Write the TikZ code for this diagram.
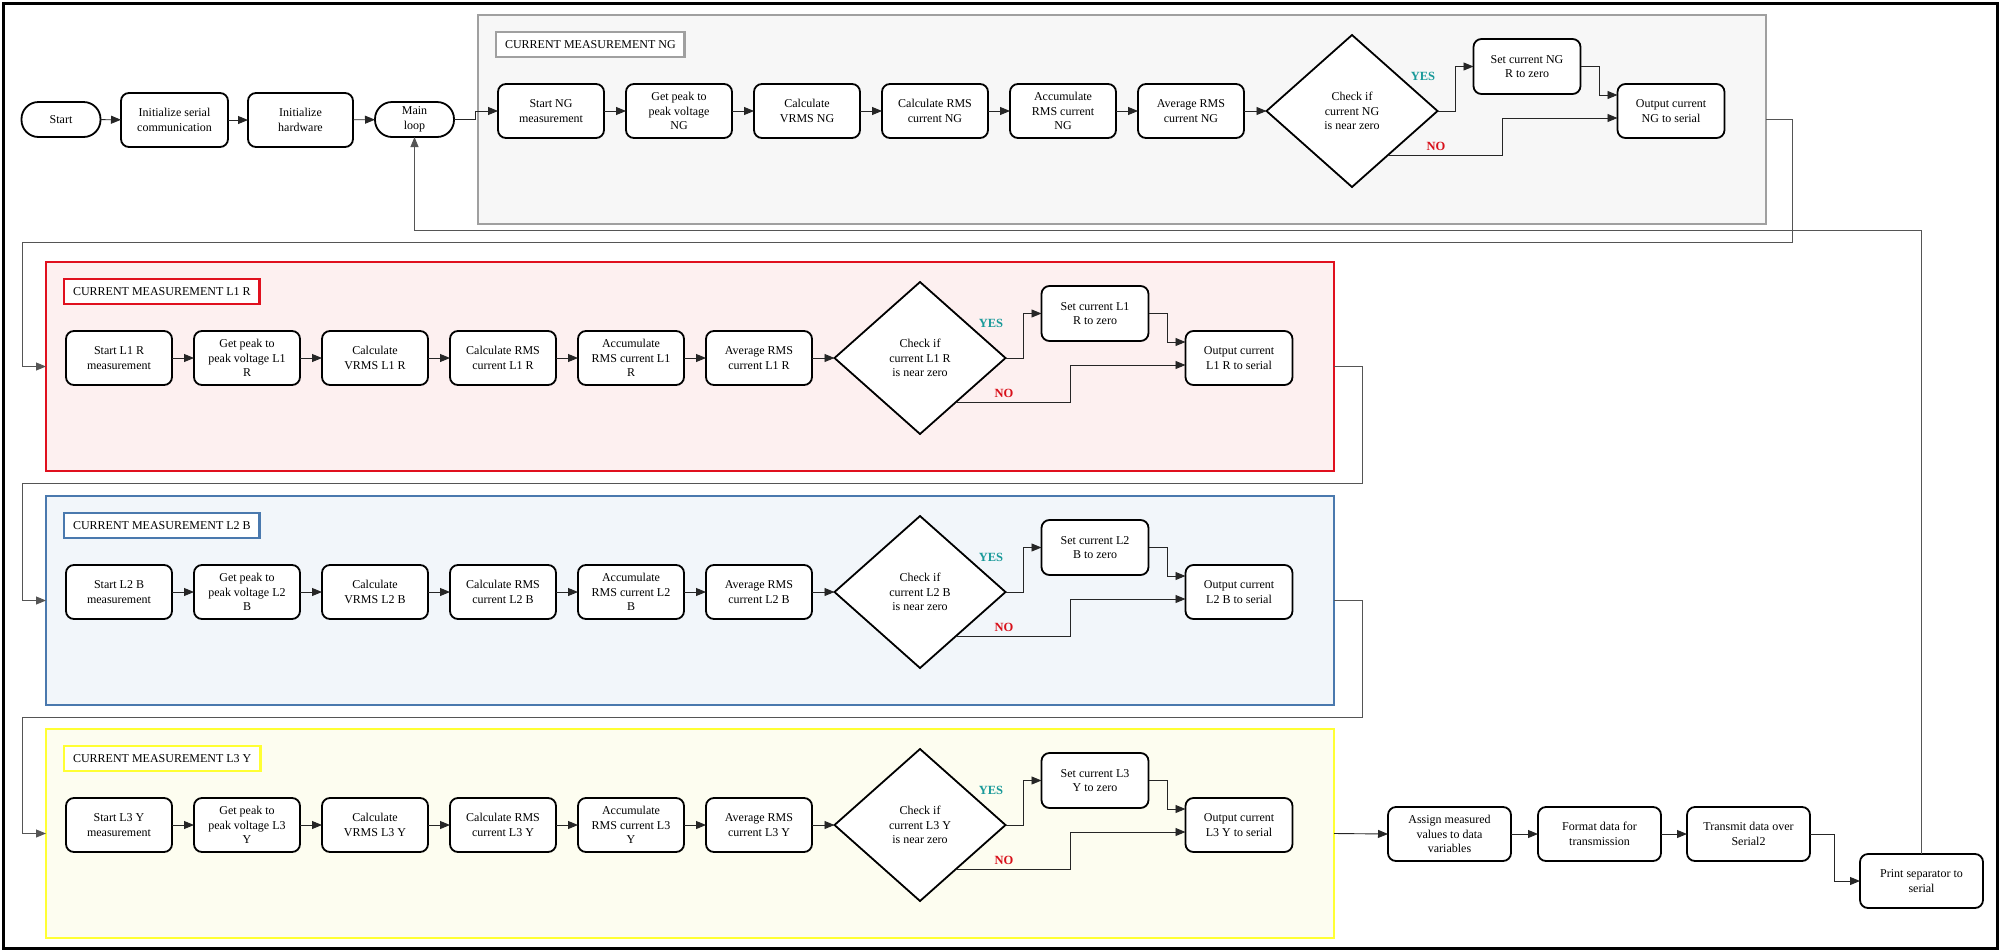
\documentclass[tikz,border=0pt]{standalone}
\usepackage{fontspec}
\setmainfont{Liberation Serif}
\usetikzlibrary{arrows.meta,calc,shapes.geometric}
\definecolor{ngbd}{HTML}{A0A0A0}
\definecolor{ngfl}{HTML}{F7F7F7}
\definecolor{rbd}{HTML}{E0101E}
\definecolor{rfl}{HTML}{FDF0F0}
\definecolor{bbd}{HTML}{4A79AE}
\definecolor{bfl}{HTML}{F2F6FA}
\definecolor{ybd}{HTML}{FFFF33}
\definecolor{yfl}{HTML}{FDFDF0}
\definecolor{yescol}{HTML}{1A9A9A}
\definecolor{nocol}{HTML}{D8101A}
\definecolor{lnk}{HTML}{555555}
\tikzset{
  every node/.style={font=\fontsize{12}{14.5}\selectfont},
  box/.style={draw=black, line width=1.8pt, rounded corners=8pt, fill=white, align=center,
    minimum width=106, minimum height=54, inner sep=2pt, outer sep=0pt},
  term/.style={box, rounded corners=17pt, minimum height=35, minimum width=79},
  dec/.style={draw=black, line width=1.8pt, diamond, fill=white, align=center,
    minimum width=171, minimum height=152, inner sep=0pt, outer sep=0pt},
  grpbox/.style={line width=1.6pt, minimum width=1288, minimum height=209, inner sep=0pt, outer sep=0pt},
  ttl/.style={line width=2.6pt, fill=white, minimum height=25, inner xsep=9pt, anchor=west, outer sep=0pt},
  arr/.style={-{Triangle[length=10pt,width=8pt]}, line width=0.9pt, draw=black!85},
  link/.style={arr, draw=lnk},
  yeslbl/.style={text=yescol, font=\fontsize{12.5}{14}\selectfont\bfseries},
  nolbl/.style={text=nocol, font=\fontsize{12.5}{14}\selectfont\bfseries},
}
% #1 prefix, #2 shift, #3 tag, #4 tag first part, #5 tag second part, #6 set text, #7 border, #8 fill
\newcommand\mgroup[8]{%
  \begin{scope}[shift={#2}]
    \node[grpbox, draw=#7, fill=#8] (#1g) at (644,104.5) {};
    \node[ttl, draw=#7] (#1t) at (18,29.5) {CURRENT MEASUREMENT #3};
    \node[box] (#1s1) at (73,96) {Start #3\\measurement};
    \node[box] (#1s2) at (201,96) {Get peak to\\peak voltage #4\\#5};
    \node[box] (#1s3) at (329,96) {Calculate\\VRMS #3};
    \node[box] (#1s4) at (457,96) {Calculate RMS\\current #3};
    \node[box] (#1s5) at (585,96) {Accumulate\\RMS current #4\\#5};
    \node[box] (#1s6) at (713,96) {Average RMS\\current #3};
    \node[dec] (#1d) at (874,96) {Check if\\current #3\\is near zero};
    \node[box, minimum width=107, minimum height=55] (#1set) at (1049,51.5) {#6};
    \node[box, minimum width=107] (#1out) at (1193,96) {Output current\\#3 to serial};
    \node[yeslbl] (#1y) at (945,61) {YES};
    \node[nolbl] (#1n) at (958,131) {NO};
    \draw[arr] (#1s1) -- (#1s2);
    \draw[arr] (#1s2) -- (#1s3);
    \draw[arr] (#1s3) -- (#1s4);
    \draw[arr] (#1s4) -- (#1s5);
    \draw[arr] (#1s5) -- (#1s6);
    \draw[arr] (#1s6) -- (#1d);
    \draw[arr] (#1d.east) -- ++(18,0) |- (#1set.west);
    \draw[arr] (#1set.east) -- ++(19,0) |- ([yshift=16pt]#1out.west);
    \draw[arr] ($(#1d.south)!0.42!(#1d.east)$) -| ([xshift=-115pt,yshift=-7pt]#1out.west) -- ([yshift=-7pt]#1out.west);
  \end{scope}}
\begin{document}
\begin{tikzpicture}[x=1pt,y=-1pt]
  \useasboundingbox (0,0) rectangle (2000,951);
  \draw[line width=3pt, black] (3,3) rectangle (1997,948);
  % start chain
  \node[term] (start) at (61,119.5) {Start};
  \node[box, minimum width=107] (iser) at (174.5,120) {Initialize serial\\communication};
  \node[box, minimum width=105] (ihw) at (300.5,120) {Initialize\\hardware};
  \node[term] (main) at (414.5,119.5) {Main\\loop};
  \draw[arr] (start) -- (iser);
  \draw[arr] (iser) -- (ihw);
  \draw[arr] (ihw) -- (main);
  % groups
  \mgroup{NG}{(478,15)}{NG}{}{NG}{Set current NG\\R to zero}{ngbd}{ngfl}
  \mgroup{LA}{(46,262)}{L1 R}{L1}{R}{Set current L1\\R to zero}{rbd}{rfl}
  \mgroup{LB}{(46,496)}{L2 B}{L2}{B}{Set current L2\\B to zero}{bbd}{bfl}
  \mgroup{LC}{(46,729)}{L3 Y}{L3}{Y}{Set current L3\\Y to zero}{ybd}{yfl}
  % final chain
  \node[box, minimum width=123] (asg) at (1449.5,834) {Assign measured\\values to data\\variables};
  \node[box, minimum width=123] (fmt) at (1599.5,834) {Format data for\\transmission};
  \node[box, minimum width=123] (trn) at (1748.5,834) {Transmit data over\\Serial2};
  \node[box, minimum width=123] (prt) at (1921.5,881) {Print separator to\\serial};
  % connectors
  \coordinate (b0) at (414.5,230);
  \coordinate (b1) at (22,242);
  \coordinate (b2) at (22,483);
  \coordinate (b3) at (22,717);
  \draw[arr] (main.east) -- ++(21,0) |- (NGs1.west);
  \draw[link] (NGg.east) -- ++(26,0) |- (b1) |- (LAg.west);
  \draw[link] (LAg.east) -- ++(28,0) |- (b2) |- (LBg.west);
  \draw[link] (LBg.east) -- ++(28,0) |- (b3) |- (LCg.west);
  \draw[arr] (LCg.east) -- (asg.west);
  \draw[arr] (asg) -- (fmt);
  \draw[arr] (fmt) -- (trn);
  \draw[arr] (trn.east) -- ++(24,0) |- (prt.west);
  \draw[link] (prt.north) |- (b0) -- (main.south);
\end{tikzpicture}
\end{document}
